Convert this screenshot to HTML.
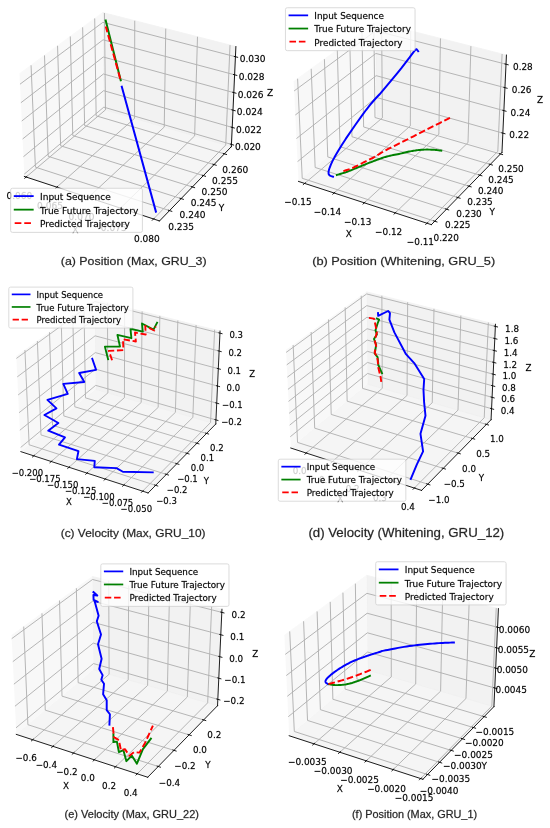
<!DOCTYPE html>
<html><head><meta charset="utf-8"><title>Trajectory predictions</title>
<style>
html,body{margin:0;padding:0;background:#fff;}
body{width:550px;height:828px;position:relative;overflow:hidden;}
#root{position:absolute;left:0;top:0;width:550px;height:828px;overflow:hidden;background:#fff;}
svg.p{position:absolute;overflow:visible;}
svg.p *{stroke-linejoin:round;stroke-linecap:butt;}
svg.p text{stroke:#000;stroke-width:0.35px;stroke-opacity:0.55;transform:translateY(0.8px);}
.caps{position:absolute;left:0;top:0;}
.caps text{font-family:"Liberation Sans","DejaVu Sans",sans-serif;fill:#262626;stroke:#262626;stroke-width:0.35px;stroke-opacity:0.6;}
</style></head><body><div id="root">
<svg class="p" style="left:-87.21px;top:-44.07px" width="416.64" height="314.88" viewBox="0 0 460.8 345.6" preserveAspectRatio="none"> <g> <g> <g> <path d="M123.2 241.97L211.08 168.31L209.85 62.07L117.77 129.27 " style="fill: #f2f2f2; opacity: 0.5; stroke: #f2f2f2; stroke-linejoin: miter"/> </g> </g> <g> <g> <path d="M211.08 168.31L352.09 209.29L357.12 99.4L209.85 62.07 " style="fill: #e6e6e6; opacity: 0.5; stroke: #e6e6e6; stroke-linejoin: miter"/> </g> </g> <g> <g> <path d="M123.2 241.97L272.68 290.79L352.09 209.29L211.08 168.31 " style="fill: #ececec; opacity: 0.5; stroke: #ececec; stroke-linejoin: miter"/> </g> </g> <g> <g> <path d="M125.14 242.6L212.92 168.84L211.77 62.56 " style="fill: none; stroke: #b0b0b0; stroke-width: 1.05"/> <path d="M159.07 253.69L245.04 178.18L245.26 71.05 " style="fill: none; stroke: #b0b0b0; stroke-width: 1.05"/> <path d="M193.85 265.05L277.89 187.73L279.55 79.74 " style="fill: none; stroke: #b0b0b0; stroke-width: 1.05"/> <path d="M229.51 276.69L311.49 197.49L314.66 88.64 " style="fill: none; stroke: #b0b0b0; stroke-width: 1.05"/> <path d="M266.07 288.63L345.88 207.49L350.63 97.76 " style="fill: none; stroke: #b0b0b0; stroke-width: 1.05"/> </g> </g> <g> <g> <path d="M130.58 119.92L135.38 231.75L283.73 279.45 " style="fill: none; stroke: #b0b0b0; stroke-width: 1.05"/> <path d="M145.44 109.08L149.53 219.89L296.55 266.29 " style="fill: none; stroke: #b0b0b0; stroke-width: 1.05"/> <path d="M159.89 98.53L163.31 208.34L309.02 253.5 " style="fill: none; stroke: #b0b0b0; stroke-width: 1.05"/> <path d="M173.96 88.27L176.74 197.09L321.14 241.05 " style="fill: none; stroke: #b0b0b0; stroke-width: 1.05"/> <path d="M187.64 78.28L189.82 186.13L332.94 228.94 " style="fill: none; stroke: #b0b0b0; stroke-width: 1.05"/> <path d="M200.97 68.56L202.56 175.44L344.43 217.16 " style="fill: none; stroke: #b0b0b0; stroke-width: 1.05"/> </g> </g> <g> <g> <path d="M352.2 206.8L211.05 165.89L123.07 239.41 " style="fill: none; stroke: #b0b0b0; stroke-width: 1.05"/> <path d="M353.06 188.13L210.84 147.82L122.15 220.3 " style="fill: none; stroke: #b0b0b0; stroke-width: 1.05"/> <path d="M353.93 169.18L210.63 129.48L121.22 200.88 " style="fill: none; stroke: #b0b0b0; stroke-width: 1.05"/> <path d="M354.81 149.94L210.42 110.87L120.27 181.15 " style="fill: none; stroke: #b0b0b0; stroke-width: 1.05"/> <path d="M355.7 130.4L210.2 91.99L119.3 161.1 " style="fill: none; stroke: #b0b0b0; stroke-width: 1.05"/> <path d="M356.61 110.55L209.98 72.83L118.32 140.73 " style="fill: none; stroke: #b0b0b0; stroke-width: 1.05"/> </g> </g> <g> <g> <path d="M123.2 241.97L272.68 290.79 " style="fill: none; stroke: #000000; stroke-linecap: square"/> </g> <g> <g> <path d="M125.9 241.96L123.61 243.89 " style="fill: none; stroke: #000000; stroke-linecap: square"/> </g> <g> <text style="font-size: 10px; font-family: 'DejaVu Sans', sans-serif; text-anchor: middle" x="117.6" y="265.86">0.060</text> </g> </g> <g> <g> <path d="M159.82 253.03L157.57 255.01 " style="fill: none; stroke: #000000; stroke-linecap: square"/> </g> <g> <text style="font-size: 10px; font-family: 'DejaVu Sans', sans-serif; text-anchor: middle" x="151.57" y="277.18">0.065</text> </g> </g> <g> <g> <path d="M194.59 264.37L192.38 266.4 " style="fill: none; stroke: #000000; stroke-linecap: square"/> </g> <g> <text style="font-size: 10px; font-family: 'DejaVu Sans', sans-serif; text-anchor: middle" x="186.39" y="288.78">0.070</text> </g> </g> <g> <g> <path d="M230.22 276L228.07 278.08 " style="fill: none; stroke: #000000; stroke-linecap: square"/> </g> <g> <text style="font-size: 10px; font-family: 'DejaVu Sans', sans-serif; text-anchor: middle" x="222.09" y="300.68">0.075</text> </g> </g> <g> <g> <path d="M266.77 287.92L264.67 290.05 " style="fill: none; stroke: #000000; stroke-linecap: square"/> </g> <g> <text style="font-size: 10px; font-family: 'DejaVu Sans', sans-serif; text-anchor: middle" x="258.7" y="312.87">0.080</text> </g> </g> <g> <text style="font-size: 10px; font-family: 'DejaVu Sans', sans-serif; text-anchor: middle" x="179.68" y="303.77">X</text> </g> </g> <g> <g> <path d="M352.09 209.29L272.68 290.79 " style="fill: none; stroke: #000000; stroke-linecap: square"/> </g> <g> <g> <path d="M282.48 279.04L286.24 280.25 " style="fill: none; stroke: #000000; stroke-linecap: square"/> </g> <g> <text style="font-size: 10px; font-family: 'DejaVu Sans', sans-serif; text-anchor: middle" x="296.54" y="300.38">0.235</text> </g> </g> <g> <g> <path d="M295.31 265.9L299.03 267.07 " style="fill: none; stroke: #000000; stroke-linecap: square"/> </g> <g> <text style="font-size: 10px; font-family: 'DejaVu Sans', sans-serif; text-anchor: middle" x="309.19" y="287.03">0.240</text> </g> </g> <g> <g> <path d="M307.79 253.12L311.47 254.26 " style="fill: none; stroke: #000000; stroke-linecap: square"/> </g> <g> <text style="font-size: 10px; font-family: 'DejaVu Sans', sans-serif; text-anchor: middle" x="321.48" y="274.05">0.245</text> </g> </g> <g> <g> <path d="M319.93 240.68L323.57 241.79 " style="fill: none; stroke: #000000; stroke-linecap: square"/> </g> <g> <text style="font-size: 10px; font-family: 'DejaVu Sans', sans-serif; text-anchor: middle" x="333.45" y="261.42">0.250</text> </g> </g> <g> <g> <path d="M331.74 228.58L335.35 229.66 " style="fill: none; stroke: #000000; stroke-linecap: square"/> </g> <g> <text style="font-size: 10px; font-family: 'DejaVu Sans', sans-serif; text-anchor: middle" x="345.09" y="249.14">0.255</text> </g> </g> <g> <g> <path d="M343.24 216.81L346.81 217.86 " style="fill: none; stroke: #000000; stroke-linecap: square"/> </g> <g> <text style="font-size: 10px; font-family: 'DejaVu Sans', sans-serif; text-anchor: middle" x="356.42" y="237.17">0.260</text> </g> </g> <g> <text style="font-size: 10px; font-family: 'DejaVu Sans', sans-serif; text-anchor: middle" x="341.13" y="278.99">Y</text> </g> </g> <g> <g> <path d="M352.09 209.29L357.12 99.4 " style="fill: none; stroke: #000000; stroke-linecap: square"/> </g> <g> <g> <path d="M351.02 206.45L354.58 207.48 " style="fill: none; stroke: #000000; stroke-linecap: square"/> </g> <g> <text style="font-size: 10px; font-family: 'DejaVu Sans', sans-serif; text-anchor: middle" x="370.47" y="211.8">0.020</text> </g> </g> <g> <g> <path d="M351.87 187.79L355.45 188.81 " style="fill: none; stroke: #000000; stroke-linecap: square"/> </g> <g> <text style="font-size: 10px; font-family: 'DejaVu Sans', sans-serif; text-anchor: middle" x="371.46" y="193.17">0.022</text> </g> </g> <g> <g> <path d="M352.72 168.85L356.34 169.85 " style="fill: none; stroke: #000000; stroke-linecap: square"/> </g> <g> <text style="font-size: 10px; font-family: 'DejaVu Sans', sans-serif; text-anchor: middle" x="372.47" y="174.26">0.024</text> </g> </g> <g> <g> <path d="M353.6 149.61L357.24 150.6 " style="fill: none; stroke: #000000; stroke-linecap: square"/> </g> <g> <text style="font-size: 10px; font-family: 'DejaVu Sans', sans-serif; text-anchor: middle" x="373.49" y="155.05">0.026</text> </g> </g> <g> <g> <path d="M354.48 130.08L358.15 131.05 " style="fill: none; stroke: #000000; stroke-linecap: square"/> </g> <g> <text style="font-size: 10px; font-family: 'DejaVu Sans', sans-serif; text-anchor: middle" x="374.53" y="135.55">0.028</text> </g> </g> <g> <g> <path d="M355.38 110.24L359.08 111.19 " style="fill: none; stroke: #000000; stroke-linecap: square"/> </g> <g> <text style="font-size: 10px; font-family: 'DejaVu Sans', sans-serif; text-anchor: middle" x="375.58" y="115.75">0.030</text> </g> </g> <g> <text style="font-size: 10px; font-family: 'DejaVu Sans', sans-serif; text-anchor: middle" x="394.93" y="152.9">Z</text> </g> </g> <g/> <g> <path d="M268.66 280.61L230.94 143.52 " style="fill: none; stroke: #0000ff; stroke-width: 2.2; stroke-linecap: square"/> </g> <g> <path d="M229.73 136.39L213.14 70.76 " style="fill: none; stroke: #008000; stroke-width: 2.2; stroke-linecap: square"/> </g> <g> <path d="M229.17 134.63L213.25 77.34 " style="fill: none; stroke-dasharray: 7.4,3.2; stroke-dashoffset: 0; stroke: #ff0000; stroke-width: 2.2"/> </g> <g> <g> <path d="M109.96 303.36L251.75 303.36 Q 253.75 303.36 253.75 301.36L253.75 256.93 Q 253.75 254.93 251.75 254.93L109.96 254.93 Q 107.96 254.93 107.96 256.93L107.96 301.36 Q 107.96 303.36 109.96 303.36z " style="fill: #ffffff; opacity: 0.8; stroke: #cccccc; stroke-linejoin: miter"/> </g> <g> <path d="M112.46 263.53L122.46 263.53L132.46 263.53 " style="fill: none; stroke: #0000ff; stroke-width: 2; stroke-linecap: square"/> </g> <g> <text style="font-size: 10px; font-family: 'DejaVu Sans', sans-serif; text-anchor: start" x="140.46" y="267.03">Input Sequence</text> </g> <g> <path d="M112.46 278.4L122.46 278.4L132.46 278.4 " style="fill: none; stroke: #008000; stroke-width: 2; stroke-linecap: square"/> </g> <g> <text style="font-size: 10px; font-family: 'DejaVu Sans', sans-serif; text-anchor: start" x="140.46" y="281.9">True Future Trajectory</text> </g> <g> <path d="M112.46 293.28L122.46 293.28L132.46 293.28 " style="fill: none; stroke-dasharray: 7.4,3.2; stroke-dashoffset: 0; stroke: #ff0000; stroke-width: 2"/> </g> <g> <text style="font-size: 10px; font-family: 'DejaVu Sans', sans-serif; text-anchor: start" x="140.46" y="296.78">Predicted Trajectory</text> </g> </g> </g> </svg><svg class="p" style="left:188.64px;top:-33.44px" width="409.60" height="306.24" viewBox="0 0 460.8 345.6" preserveAspectRatio="none"> <g> <g> <g> <path d="M123.2 241.97L211.08 168.31L209.85 62.07L117.77 129.27 " style="fill: #f2f2f2; opacity: 0.5; stroke: #f2f2f2; stroke-linejoin: miter"/> </g> </g> <g> <g> <path d="M211.08 168.31L352.09 209.29L357.12 99.4L209.85 62.07 " style="fill: #e6e6e6; opacity: 0.5; stroke: #e6e6e6; stroke-linejoin: miter"/> </g> </g> <g> <g> <path d="M123.2 241.97L272.68 290.79L352.09 209.29L211.08 168.31 " style="fill: #ececec; opacity: 0.5; stroke: #ececec; stroke-linejoin: miter"/> </g> </g> <g> <g> <path d="M130.1 244.22L217.61 170.21L216.67 63.8 " style="fill: none; stroke: #b0b0b0; stroke-width: 1.05"/> <path d="M163.27 255.06L249 179.33L249.4 72.1 " style="fill: none; stroke: #b0b0b0; stroke-width: 1.05"/> <path d="M197.24 266.15L281.08 188.65L282.89 80.59 " style="fill: none; stroke: #b0b0b0; stroke-width: 1.05"/> <path d="M232.05 277.52L313.88 198.19L317.16 89.27 " style="fill: none; stroke: #b0b0b0; stroke-width: 1.05"/> <path d="M267.72 289.17L347.43 207.94L352.25 98.17 " style="fill: none; stroke: #b0b0b0; stroke-width: 1.05"/> </g> </g> <g> <g> <path d="M122.17 126.06L127.38 238.46L276.47 286.9 " style="fill: none; stroke: #b0b0b0; stroke-width: 1.05"/> <path d="M137.47 114.89L141.94 226.25L289.68 273.34 " style="fill: none; stroke: #b0b0b0; stroke-width: 1.05"/> <path d="M152.35 104.04L156.12 214.37L302.51 260.17 " style="fill: none; stroke: #b0b0b0; stroke-width: 1.05"/> <path d="M166.82 93.48L169.92 202.8L314.99 247.37 " style="fill: none; stroke: #b0b0b0; stroke-width: 1.05"/> <path d="M180.89 83.21L183.36 191.54L327.12 234.92 " style="fill: none; stroke: #b0b0b0; stroke-width: 1.05"/> <path d="M194.58 73.22L196.46 180.56L338.93 222.8 " style="fill: none; stroke: #b0b0b0; stroke-width: 1.05"/> <path d="M207.91 63.49L209.22 169.87L350.42 211.01 " style="fill: none; stroke: #b0b0b0; stroke-width: 1.05"/> </g> </g> <g> <g> <path d="M353.09 187.5L210.83 147.2L122.12 219.64 " style="fill: none; stroke: #b0b0b0; stroke-width: 1.05"/> <path d="M354.25 162.1L210.55 122.63L120.87 193.62 " style="fill: none; stroke: #b0b0b0; stroke-width: 1.05"/> <path d="M355.44 136.19L210.26 97.58L119.59 167.04 " style="fill: none; stroke: #b0b0b0; stroke-width: 1.05"/> <path d="M356.65 109.72L209.97 72.03L118.28 139.88 " style="fill: none; stroke: #b0b0b0; stroke-width: 1.05"/> </g> </g> <g> <g> <path d="M123.2 241.97L272.68 290.79 " style="fill: none; stroke: #000000; stroke-linecap: square"/> </g> <g> <g> <path d="M130.86 243.58L128.57 245.51 " style="fill: none; stroke: #000000; stroke-linecap: square"/> </g> <g> <text style="font-size: 10px; font-family: 'DejaVu Sans', sans-serif; text-anchor: middle" x="122.56" y="267.52">−0.15</text> </g> </g> <g> <g> <path d="M164.01 254.4L161.77 256.38 " style="fill: none; stroke: #000000; stroke-linecap: square"/> </g> <g> <text style="font-size: 10px; font-family: 'DejaVu Sans', sans-serif; text-anchor: middle" x="155.77" y="278.58">−0.14</text> </g> </g> <g> <g> <path d="M197.97 265.48L195.77 267.51 " style="fill: none; stroke: #000000; stroke-linecap: square"/> </g> <g> <text style="font-size: 10px; font-family: 'DejaVu Sans', sans-serif; text-anchor: middle" x="189.78" y="289.91">−0.13</text> </g> </g> <g> <g> <path d="M232.76 276.83L230.62 278.91 " style="fill: none; stroke: #000000; stroke-linecap: square"/> </g> <g> <text style="font-size: 10px; font-family: 'DejaVu Sans', sans-serif; text-anchor: middle" x="224.63" y="301.52">−0.12</text> </g> </g> <g> <g> <path d="M268.42 288.46L266.33 290.59 " style="fill: none; stroke: #000000; stroke-linecap: square"/> </g> <g> <text style="font-size: 10px; font-family: 'DejaVu Sans', sans-serif; text-anchor: middle" x="260.35" y="313.42">−0.11</text> </g> </g> <g> <text style="font-size: 10px; font-family: 'DejaVu Sans', sans-serif; text-anchor: middle" x="179.68" y="303.77">X</text> </g> </g> <g> <g> <path d="M352.09 209.29L272.68 290.79 " style="fill: none; stroke: #000000; stroke-linecap: square"/> </g> <g> <g> <path d="M275.22 286.49L278.99 287.71 " style="fill: none; stroke: #000000; stroke-linecap: square"/> </g> <g> <text style="font-size: 10px; font-family: 'DejaVu Sans', sans-serif; text-anchor: middle" x="289.38" y="307.94">0.220</text> </g> </g> <g> <g> <path d="M288.44 272.95L292.17 274.14 " style="fill: none; stroke: #000000; stroke-linecap: square"/> </g> <g> <text style="font-size: 10px; font-family: 'DejaVu Sans', sans-serif; text-anchor: middle" x="302.41" y="294.19">0.225</text> </g> </g> <g> <g> <path d="M301.28 259.79L304.98 260.95 " style="fill: none; stroke: #000000; stroke-linecap: square"/> </g> <g> <text style="font-size: 10px; font-family: 'DejaVu Sans', sans-serif; text-anchor: middle" x="315.07" y="280.83">0.230</text> </g> </g> <g> <g> <path d="M313.77 247L317.43 248.12 " style="fill: none; stroke: #000000; stroke-linecap: square"/> </g> <g> <text style="font-size: 10px; font-family: 'DejaVu Sans', sans-serif; text-anchor: middle" x="327.37" y="267.83">0.235</text> </g> </g> <g> <g> <path d="M325.91 234.55L329.54 235.65 " style="fill: none; stroke: #000000; stroke-linecap: square"/> </g> <g> <text style="font-size: 10px; font-family: 'DejaVu Sans', sans-serif; text-anchor: middle" x="339.35" y="255.2">0.240</text> </g> </g> <g> <g> <path d="M337.73 222.45L341.32 223.51 " style="fill: none; stroke: #000000; stroke-linecap: square"/> </g> <g> <text style="font-size: 10px; font-family: 'DejaVu Sans', sans-serif; text-anchor: middle" x="350.99" y="242.9">0.245</text> </g> </g> <g> <g> <path d="M349.23 210.67L352.79 211.7 " style="fill: none; stroke: #000000; stroke-linecap: square"/> </g> <g> <text style="font-size: 10px; font-family: 'DejaVu Sans', sans-serif; text-anchor: middle" x="362.33" y="230.94">0.250</text> </g> </g> <g> <text style="font-size: 10px; font-family: 'DejaVu Sans', sans-serif; text-anchor: middle" x="341.13" y="278.99">Y</text> </g> </g> <g> <g> <path d="M352.09 209.29L357.12 99.4 " style="fill: none; stroke: #000000; stroke-linecap: square"/> </g> <g> <g> <path d="M351.89 187.16L355.48 188.17 " style="fill: none; stroke: #000000; stroke-linecap: square"/> </g> <g> <text style="font-size: 10px; font-family: 'DejaVu Sans', sans-serif; text-anchor: middle" x="371.5" y="192.53">0.22</text> </g> </g> <g> <g> <path d="M353.04 161.77L356.67 162.77 " style="fill: none; stroke: #000000; stroke-linecap: square"/> </g> <g> <text style="font-size: 10px; font-family: 'DejaVu Sans', sans-serif; text-anchor: middle" x="372.84" y="167.19">0.24</text> </g> </g> <g> <g> <path d="M354.22 135.86L357.88 136.84 " style="fill: none; stroke: #000000; stroke-linecap: square"/> </g> <g> <text style="font-size: 10px; font-family: 'DejaVu Sans', sans-serif; text-anchor: middle" x="374.22" y="141.33">0.26</text> </g> </g> <g> <g> <path d="M355.42 109.41L359.12 110.36 " style="fill: none; stroke: #000000; stroke-linecap: square"/> </g> <g> <text style="font-size: 10px; font-family: 'DejaVu Sans', sans-serif; text-anchor: middle" x="375.62" y="114.92">0.28</text> </g> </g> <g> <text style="font-size: 10px; font-family: 'DejaVu Sans', sans-serif; text-anchor: middle" x="394.93" y="152.9">Z</text> </g> </g> <g/> <g> <path d="M257.81 95.07L257.01 93.97L256.2 93L255.78 92.81L255.38 92.86L255.01 93.08L254.38 93.71L252.56 96.01L248.18 102.07L238.94 114.15L234.41 119.76L214.44 143.65L211.22 147.03L208.65 149.81L203.71 155.65L199.16 161.42L194.12 168.24L186.63 178.84L176.31 194.02L172.26 200.28L167.6 207.93L163.63 214.79L161.24 219.4L159.6 223.05L158.1 226.91L157.4 229.11L157.04 230.94L156.95 232.43L157.15 233.65L157.46 234.35L157.96 234.96L158.69 235.42L160.07 235.94L161.96 236.59L161.96 236.59 " style="fill: none; stroke: #0000ff; stroke-width: 2.2; stroke-linecap: square"/> </g> <g> <path d="M166.35 234.67L167.5 234.32L168.65 233.97L169.8 233.63L170.95 233.29L172.1 232.95L173.25 232.6L174.41 232.24L175.57 231.87L176.75 231.48L177.93 231.06L179.13 230.62L180.34 230.15L181.56 229.67L182.79 229.17L184.02 228.66L185.26 228.14L186.5 227.63L187.73 227.11L188.97 226.6L190.2 226.09L191.4 225.61L192.55 225.13L193.68 224.66L194.81 224.19L195.94 223.72L197.11 223.24L198.33 222.75L199.61 222.24L200.98 221.7L202.46 221.13L204.06 220.51L205.78 219.84L207.59 219.13L209.47 218.4L211.4 217.66L213.35 216.93L215.3 216.22L217.22 215.54L219.1 214.92L220.91 214.36L222.68 213.86L224.46 213.4L226.23 212.99L227.99 212.6L229.73 212.25L231.44 211.91L233.11 211.59L234.73 211.27L236.29 210.95L237.78 210.63L239.2 210.31L240.53 209.99L241.8 209.68L243.02 209.38L244.2 209.09L245.36 208.81L246.51 208.54L247.67 208.28L248.84 208.04L250.05 207.81L251.27 207.6L252.5 207.39L253.73 207.2L254.95 207.01L256.18 206.85L257.4 206.69L258.63 206.55L259.86 206.43L261.08 206.32L262.31 206.23L263.55 206.16L264.81 206.11L266.08 206.08L267.36 206.07L268.63 206.07L269.89 206.08L271.12 206.11L272.31 206.14L273.47 206.18L274.57 206.23L275.62 206.29L276.61 206.37L277.56 206.46L278.48 206.56L279.37 206.68L280.25 206.79L281.13 206.91L282 207.03L282.89 207.14L283.8 207.25 " style="fill: none; stroke: #008000; stroke-width: 2.2; stroke-linecap: square"/> </g> <g> <path d="M173.66 230.38L174.7 230.03L175.72 229.7L176.74 229.38L177.76 229.06L178.78 228.74L179.81 228.4L180.85 228.04L181.91 227.66L183 227.24L184.12 226.77L185.28 226.26L186.46 225.7L187.67 225.1L188.9 224.47L190.14 223.83L191.39 223.17L192.65 222.51L193.9 221.85L195.15 221.2L196.38 220.56L197.61 219.95L198.84 219.34L200.06 218.74L201.29 218.14L202.52 217.53L203.74 216.92L204.97 216.3L206.19 215.67L207.42 215.02L208.65 214.36L209.85 213.68L211.01 212.99L212.15 212.29L213.28 211.59L214.42 210.87L215.59 210.13L216.81 209.38L218.09 208.61L219.45 207.83L220.91 207.02L222.31 206.27L223.56 205.62L224.73 205.03L225.94 204.43L227.26 203.78L228.79 203.03L230.63 202.13L232.87 201.02L235.6 199.66L238.91 197.99L242.89 195.98L247.5 193.64L252.62 191.04L258.14 188.24L263.95 185.28L269.95 182.24L276.03 179.15L282.06 176.08L287.95 173.09L293.58 170.23 " style="fill: none; stroke-dasharray: 7.4,3.2; stroke-dashoffset: 0; stroke: #ff0000; stroke-width: 2.2"/> </g> <g> <g> <path d="M110.52 94.42L252.32 94.42 Q 254.32 94.42 254.32 92.42L254.32 47.98 Q 254.32 45.98 252.32 45.98L110.52 45.98 Q 108.52 45.98 108.52 47.98L108.52 92.42 Q 108.52 94.42 110.52 94.42z " style="fill: #ffffff; opacity: 0.8; stroke: #cccccc; stroke-linejoin: miter"/> </g> <g> <path d="M113.02 54.58L123.02 54.58L133.02 54.58 " style="fill: none; stroke: #0000ff; stroke-width: 2; stroke-linecap: square"/> </g> <g> <text style="font-size: 10px; font-family: 'DejaVu Sans', sans-serif; text-anchor: start" x="141.02" y="58.08">Input Sequence</text> </g> <g> <path d="M113.02 69.46L123.02 69.46L133.02 69.46 " style="fill: none; stroke: #008000; stroke-width: 2; stroke-linecap: square"/> </g> <g> <text style="font-size: 10px; font-family: 'DejaVu Sans', sans-serif; text-anchor: start" x="141.02" y="72.96">True Future Trajectory</text> </g> <g> <path d="M113.02 84.34L123.02 84.34L133.02 84.34 " style="fill: none; stroke-dasharray: 7.4,3.2; stroke-dashoffset: 0; stroke: #ff0000; stroke-width: 2"/> </g> <g> <text style="font-size: 10px; font-family: 'DejaVu Sans', sans-serif; text-anchor: start" x="141.02" y="87.84">Predicted Trajectory</text> </g> </g> </g> </svg><svg class="p" style="left:-84.39px;top:247.48px" width="392.32" height="292.32" viewBox="0 0 460.8 345.6" preserveAspectRatio="none"> <g> <g> <g> <path d="M123.2 241.97L211.08 168.31L209.85 62.07L117.77 129.27 " style="fill: #f2f2f2; opacity: 0.5; stroke: #f2f2f2; stroke-linejoin: miter"/> </g> </g> <g> <g> <path d="M211.08 168.31L352.09 209.29L357.12 99.4L209.85 62.07 " style="fill: #e6e6e6; opacity: 0.5; stroke: #e6e6e6; stroke-linejoin: miter"/> </g> </g> <g> <g> <path d="M123.2 241.97L272.68 290.79L352.09 209.29L211.08 168.31 " style="fill: #ececec; opacity: 0.5; stroke: #ececec; stroke-linejoin: miter"/> </g> </g> <g> <g> <path d="M138.34 246.92L225.42 172.48L224.81 65.86 " style="fill: none; stroke: #b0b0b0; stroke-width: 1.05"/> <path d="M158.86 253.62L244.83 178.12L245.05 71 " style="fill: none; stroke: #b0b0b0; stroke-width: 1.05"/> <path d="M179.69 260.42L264.51 183.84L265.59 76.2 " style="fill: none; stroke: #b0b0b0; stroke-width: 1.05"/> <path d="M200.83 267.32L284.46 189.64L286.42 81.48 " style="fill: none; stroke: #b0b0b0; stroke-width: 1.05"/> <path d="M222.29 274.33L304.69 195.52L307.55 86.84 " style="fill: none; stroke: #b0b0b0; stroke-width: 1.05"/> <path d="M244.07 281.45L325.2 201.48L328.99 92.27 " style="fill: none; stroke: #b0b0b0; stroke-width: 1.05"/> <path d="M266.19 288.67L346 207.52L350.75 97.79 " style="fill: none; stroke: #b0b0b0; stroke-width: 1.05"/> </g> </g> <g> <g> <path d="M127.95 121.84L132.88 233.85L281.46 281.78 " style="fill: none; stroke: #b0b0b0; stroke-width: 1.05"/> <path d="M142.58 111.17L146.81 222.18L294.08 268.82 " style="fill: none; stroke: #b0b0b0; stroke-width: 1.05"/> <path d="M156.81 100.78L160.38 210.81L306.36 256.22 " style="fill: none; stroke: #b0b0b0; stroke-width: 1.05"/> <path d="M170.67 90.67L173.6 199.72L318.31 243.96 " style="fill: none; stroke: #b0b0b0; stroke-width: 1.05"/> <path d="M184.16 80.83L186.49 188.92L329.94 232.02 " style="fill: none; stroke: #b0b0b0; stroke-width: 1.05"/> <path d="M197.3 71.23L199.06 178.38L341.27 220.4 " style="fill: none; stroke: #b0b0b0; stroke-width: 1.05"/> </g> </g> <g> <g> <path d="M352.31 204.43L211.02 163.59L122.96 236.98 " style="fill: none; stroke: #b0b0b0; stroke-width: 1.05"/> <path d="M353.22 184.57L210.8 144.37L121.98 216.65 " style="fill: none; stroke: #b0b0b0; stroke-width: 1.05"/> <path d="M354.15 164.39L210.58 124.85L120.98 195.97 " style="fill: none; stroke: #b0b0b0; stroke-width: 1.05"/> <path d="M355.09 143.89L210.35 105.02L119.97 174.94 " style="fill: none; stroke: #b0b0b0; stroke-width: 1.05"/> <path d="M356.04 123.04L210.12 84.88L118.94 153.54 " style="fill: none; stroke: #b0b0b0; stroke-width: 1.05"/> <path d="M357.01 101.84L209.88 64.43L117.89 131.78 " style="fill: none; stroke: #b0b0b0; stroke-width: 1.05"/> </g> </g> <g> <g> <path d="M123.2 241.97L272.68 290.79 " style="fill: none; stroke: #000000; stroke-linecap: square"/> </g> <g> <g> <path d="M139.1 246.27L136.82 248.22 " style="fill: none; stroke: #000000; stroke-linecap: square"/> </g> <g> <text style="font-size: 10px; font-family: 'DejaVu Sans', sans-serif; text-anchor: middle" x="130.82" y="270.27">−0.200</text> </g> </g> <g> <g> <path d="M159.61 252.96L157.36 254.94 " style="fill: none; stroke: #000000; stroke-linecap: square"/> </g> <g> <text style="font-size: 10px; font-family: 'DejaVu Sans', sans-serif; text-anchor: middle" x="151.36" y="277.11">−0.175</text> </g> </g> <g> <g> <path d="M180.43 259.75L178.21 261.76 " style="fill: none; stroke: #000000; stroke-linecap: square"/> </g> <g> <text style="font-size: 10px; font-family: 'DejaVu Sans', sans-serif; text-anchor: middle" x="172.21" y="284.06">−0.150</text> </g> </g> <g> <g> <path d="M201.56 266.65L199.37 268.68 " style="fill: none; stroke: #000000; stroke-linecap: square"/> </g> <g> <text style="font-size: 10px; font-family: 'DejaVu Sans', sans-serif; text-anchor: middle" x="193.37" y="291.11">−0.125</text> </g> </g> <g> <g> <path d="M223.01 273.64L220.84 275.71 " style="fill: none; stroke: #000000; stroke-linecap: square"/> </g> <g> <text style="font-size: 10px; font-family: 'DejaVu Sans', sans-serif; text-anchor: middle" x="214.86" y="298.27">−0.100</text> </g> </g> <g> <g> <path d="M244.78 280.75L242.65 282.85 " style="fill: none; stroke: #000000; stroke-linecap: square"/> </g> <g> <text style="font-size: 10px; font-family: 'DejaVu Sans', sans-serif; text-anchor: middle" x="236.67" y="305.53">−0.075</text> </g> </g> <g> <g> <path d="M266.89 287.96L264.79 290.09 " style="fill: none; stroke: #000000; stroke-linecap: square"/> </g> <g> <text style="font-size: 10px; font-family: 'DejaVu Sans', sans-serif; text-anchor: middle" x="258.82" y="312.91">−0.050</text> </g> </g> <g> <text style="font-size: 10px; font-family: 'DejaVu Sans', sans-serif; text-anchor: middle" x="179.68" y="303.77">X</text> </g> </g> <g> <g> <path d="M352.09 209.29L272.68 290.79 " style="fill: none; stroke: #000000; stroke-linecap: square"/> </g> <g> <g> <path d="M280.21 281.37L283.97 282.58 " style="fill: none; stroke: #000000; stroke-linecap: square"/> </g> <g> <text style="font-size: 10px; font-family: 'DejaVu Sans', sans-serif; text-anchor: middle" x="294.3" y="302.75">−0.3</text> </g> </g> <g> <g> <path d="M292.84 268.43L296.57 269.61 " style="fill: none; stroke: #000000; stroke-linecap: square"/> </g> <g> <text style="font-size: 10px; font-family: 'DejaVu Sans', sans-serif; text-anchor: middle" x="306.75" y="289.6">−0.2</text> </g> </g> <g> <g> <path d="M305.13 255.84L308.82 256.99 " style="fill: none; stroke: #000000; stroke-linecap: square"/> </g> <g> <text style="font-size: 10px; font-family: 'DejaVu Sans', sans-serif; text-anchor: middle" x="318.86" y="276.82">−0.1</text> </g> </g> <g> <g> <path d="M317.09 243.59L320.75 244.71 " style="fill: none; stroke: #000000; stroke-linecap: square"/> </g> <g> <text style="font-size: 10px; font-family: 'DejaVu Sans', sans-serif; text-anchor: middle" x="330.65" y="264.38">0.0</text> </g> </g> <g> <g> <path d="M328.74 231.66L332.36 232.75 " style="fill: none; stroke: #000000; stroke-linecap: square"/> </g> <g> <text style="font-size: 10px; font-family: 'DejaVu Sans', sans-serif; text-anchor: middle" x="342.13" y="252.26">0.1</text> </g> </g> <g> <g> <path d="M340.08 220.05L343.66 221.1 " style="fill: none; stroke: #000000; stroke-linecap: square"/> </g> <g> <text style="font-size: 10px; font-family: 'DejaVu Sans', sans-serif; text-anchor: middle" x="353.3" y="240.46">0.2</text> </g> </g> <g> <text style="font-size: 10px; font-family: 'DejaVu Sans', sans-serif; text-anchor: middle" x="341.13" y="278.99">Y</text> </g> </g> <g> <g> <path d="M352.09 209.29L357.12 99.4 " style="fill: none; stroke: #000000; stroke-linecap: square"/> </g> <g> <g> <path d="M351.13 204.08L354.69 205.11 " style="fill: none; stroke: #000000; stroke-linecap: square"/> </g> <g> <text style="font-size: 10px; font-family: 'DejaVu Sans', sans-serif; text-anchor: middle" x="370.6" y="209.43">−0.2</text> </g> </g> <g> <g> <path d="M352.03 184.23L355.62 185.25 " style="fill: none; stroke: #000000; stroke-linecap: square"/> </g> <g> <text style="font-size: 10px; font-family: 'DejaVu Sans', sans-serif; text-anchor: middle" x="371.65" y="189.61">−0.1</text> </g> </g> <g> <g> <path d="M352.94 164.06L356.56 165.06 " style="fill: none; stroke: #000000; stroke-linecap: square"/> </g> <g> <text style="font-size: 10px; font-family: 'DejaVu Sans', sans-serif; text-anchor: middle" x="372.72" y="169.48">0.0</text> </g> </g> <g> <g> <path d="M353.87 143.56L357.52 144.54 " style="fill: none; stroke: #000000; stroke-linecap: square"/> </g> <g> <text style="font-size: 10px; font-family: 'DejaVu Sans', sans-serif; text-anchor: middle" x="373.81" y="149.01">0.1</text> </g> </g> <g> <g> <path d="M354.81 122.72L358.5 123.68 " style="fill: none; stroke: #000000; stroke-linecap: square"/> </g> <g> <text style="font-size: 10px; font-family: 'DejaVu Sans', sans-serif; text-anchor: middle" x="374.92" y="128.21">0.2</text> </g> </g> <g> <g> <path d="M355.77 101.53L359.49 102.47 " style="fill: none; stroke: #000000; stroke-linecap: square"/> </g> <g> <text style="font-size: 10px; font-family: 'DejaVu Sans', sans-serif; text-anchor: middle" x="376.04" y="107.06">0.3</text> </g> </g> <g> <text style="font-size: 10px; font-family: 'DejaVu Sans', sans-serif; text-anchor: middle" x="394.93" y="152.9">Z</text> </g> </g> <g/> <g> <path d="M207.06 132.08L211.52 145.32L191.67 148.98L197.66 159.62L173 161.87L178.28 173.58L154.32 180.67L165.01 190.84L150.8 198.64L167.24 208.1L155.26 217.2L174.99 225.12L167.95 233.75L190.85 241.2L188.97 250.78L210 252.91L209.41 260.35L235.48 261.42L243 265.67L278.12 266.38 " style="fill: none; stroke: #0000ff; stroke-width: 2.2; stroke-linecap: square"/> </g> <g> <path d="M225.62 132.67L221.86 117.77L239.59 117.65L236.54 103.82L252.98 107.84L251.93 96.73L266.37 100.16L265.43 90.46L278.94 97.67L283.17 89.52 " style="fill: none; stroke: #008000; stroke-width: 2.2; stroke-linecap: square"/> </g> <g> <path d="M230.32 133.97L226.56 122.86L243.59 121.91L243.12 109.14L258.27 111.74L257.21 101.1L269.78 103.47L269.31 93.42L279.76 98.74L281.53 94.01 " style="fill: none; stroke-dasharray: 7.4,3.2; stroke-dashoffset: 0; stroke: #ff0000; stroke-width: 2.2"/> </g> <g> <g> <path d="M110.98 95.86L252.78 95.86 Q 254.78 95.86 254.78 93.86L254.78 49.43 Q 254.78 47.43 252.78 47.43L110.98 47.43 Q 108.98 47.43 108.98 49.43L108.98 93.86 Q 108.98 95.86 110.98 95.86z " style="fill: #ffffff; opacity: 0.8; stroke: #cccccc; stroke-linejoin: miter"/> </g> <g> <path d="M113.48 56.03L123.48 56.03L133.48 56.03 " style="fill: none; stroke: #0000ff; stroke-width: 2; stroke-linecap: square"/> </g> <g> <text style="font-size: 10px; font-family: 'DejaVu Sans', sans-serif; text-anchor: start" x="141.48" y="59.53">Input Sequence</text> </g> <g> <path d="M113.48 70.9L123.48 70.9L133.48 70.9 " style="fill: none; stroke: #008000; stroke-width: 2; stroke-linecap: square"/> </g> <g> <text style="font-size: 10px; font-family: 'DejaVu Sans', sans-serif; text-anchor: start" x="141.48" y="74.4">True Future Trajectory</text> </g> <g> <path d="M113.48 85.78L123.48 85.78L133.48 85.78 " style="fill: none; stroke-dasharray: 7.4,3.2; stroke-dashoffset: 0; stroke: #ff0000; stroke-width: 2"/> </g> <g> <text style="font-size: 10px; font-family: 'DejaVu Sans', sans-serif; text-anchor: start" x="141.48" y="89.28">Predicted Trajectory</text> </g> </g> </g> </svg><svg class="p" style="left:182.91px;top:238.31px" width="403.20" height="300.00" viewBox="0 0 460.8 345.6" preserveAspectRatio="none"> <g> <g> <g> <path d="M123.2 241.97L211.08 168.31L209.85 62.07L117.77 129.27 " style="fill: #f2f2f2; opacity: 0.5; stroke: #f2f2f2; stroke-linejoin: miter"/> </g> </g> <g> <g> <path d="M211.08 168.31L352.09 209.29L357.12 99.4L209.85 62.07 " style="fill: #e6e6e6; opacity: 0.5; stroke: #e6e6e6; stroke-linejoin: miter"/> </g> </g> <g> <g> <path d="M123.2 241.97L272.68 290.79L352.09 209.29L211.08 168.31 " style="fill: #ececec; opacity: 0.5; stroke: #ececec; stroke-linejoin: miter"/> </g> </g> <g> <g> <path d="M140.85 247.73L227.79 173.17L227.28 66.49 " style="fill: none; stroke: #b0b0b0; stroke-width: 1.05"/> <path d="M170.74 257.5L256.06 181.38L256.76 73.96 " style="fill: none; stroke: #b0b0b0; stroke-width: 1.05"/> <path d="M201.27 267.47L284.88 189.76L286.86 81.59 " style="fill: none; stroke: #b0b0b0; stroke-width: 1.05"/> <path d="M232.48 277.66L314.29 198.31L317.58 89.38 " style="fill: none; stroke: #b0b0b0; stroke-width: 1.05"/> <path d="M264.38 288.08L344.29 207.03L348.96 97.33 " style="fill: none; stroke: #b0b0b0; stroke-width: 1.05"/> </g> </g> <g> <g> <path d="M125.89 123.35L130.92 235.49L279.69 283.6 " style="fill: none; stroke: #b0b0b0; stroke-width: 1.05"/> <path d="M146.47 108.33L150.51 219.07L297.44 265.38 " style="fill: none; stroke: #b0b0b0; stroke-width: 1.05"/> <path d="M166.27 93.88L169.39 203.25L314.51 247.86 " style="fill: none; stroke: #b0b0b0; stroke-width: 1.05"/> <path d="M185.33 79.97L187.61 187.98L330.95 230.99 " style="fill: none; stroke: #b0b0b0; stroke-width: 1.05"/> <path d="M203.71 66.56L205.19 173.24L346.79 214.73 " style="fill: none; stroke: #b0b0b0; stroke-width: 1.05"/> </g> </g> <g> <g> <path d="M352.67 196.64L210.94 156.06L122.57 229.02 " style="fill: none; stroke: #b0b0b0; stroke-width: 1.05"/> <path d="M353.27 183.53L210.79 143.36L121.93 215.58 " style="fill: none; stroke: #b0b0b0; stroke-width: 1.05"/> <path d="M353.88 170.28L210.64 130.54L121.27 202 " style="fill: none; stroke: #b0b0b0; stroke-width: 1.05"/> <path d="M354.49 156.89L210.49 117.59L120.61 188.27 " style="fill: none; stroke: #b0b0b0; stroke-width: 1.05"/> <path d="M355.11 143.35L210.34 104.5L119.94 174.39 " style="fill: none; stroke: #b0b0b0; stroke-width: 1.05"/> <path d="M355.74 129.66L210.19 91.28L119.27 160.34 " style="fill: none; stroke: #b0b0b0; stroke-width: 1.05"/> <path d="M356.37 115.83L210.04 77.92L118.58 146.14 " style="fill: none; stroke: #b0b0b0; stroke-width: 1.05"/> <path d="M357.01 101.84L209.88 64.43L117.89 131.78 " style="fill: none; stroke: #b0b0b0; stroke-width: 1.05"/> </g> </g> <g> <g> <path d="M123.2 241.97L272.68 290.79 " style="fill: none; stroke: #000000; stroke-linecap: square"/> </g> <g> <g> <path d="M141.61 247.09L139.33 249.04 " style="fill: none; stroke: #000000; stroke-linecap: square"/> </g> <g> <text style="font-size: 10px; font-family: 'DejaVu Sans', sans-serif; text-anchor: middle" x="133.33" y="271.1">0.0</text> </g> </g> <g> <g> <path d="M171.48 256.83L169.24 258.83 " style="fill: none; stroke: #000000; stroke-linecap: square"/> </g> <g> <text style="font-size: 10px; font-family: 'DejaVu Sans', sans-serif; text-anchor: middle" x="163.25" y="281.07">0.1</text> </g> </g> <g> <g> <path d="M202 266.79L199.81 268.83 " style="fill: none; stroke: #000000; stroke-linecap: square"/> </g> <g> <text style="font-size: 10px; font-family: 'DejaVu Sans', sans-serif; text-anchor: middle" x="193.82" y="291.26">0.2</text> </g> </g> <g> <g> <path d="M233.19 276.97L231.04 279.05 " style="fill: none; stroke: #000000; stroke-linecap: square"/> </g> <g> <text style="font-size: 10px; font-family: 'DejaVu Sans', sans-serif; text-anchor: middle" x="225.06" y="301.67">0.3</text> </g> </g> <g> <g> <path d="M265.07 287.37L262.98 289.5 " style="fill: none; stroke: #000000; stroke-linecap: square"/> </g> <g> <text style="font-size: 10px; font-family: 'DejaVu Sans', sans-serif; text-anchor: middle" x="257" y="312.31">0.4</text> </g> </g> <g> <text style="font-size: 10px; font-family: 'DejaVu Sans', sans-serif; text-anchor: middle" x="179.68" y="303.77">X</text> </g> </g> <g> <g> <path d="M352.09 209.29L272.68 290.79 " style="fill: none; stroke: #000000; stroke-linecap: square"/> </g> <g> <g> <path d="M278.43 283.19L282.2 284.41 " style="fill: none; stroke: #000000; stroke-linecap: square"/> </g> <g> <text style="font-size: 10px; font-family: 'DejaVu Sans', sans-serif; text-anchor: middle" x="292.55" y="304.6">−1.0</text> </g> </g> <g> <g> <path d="M296.2 264.99L299.91 266.16 " style="fill: none; stroke: #000000; stroke-linecap: square"/> </g> <g> <text style="font-size: 10px; font-family: 'DejaVu Sans', sans-serif; text-anchor: middle" x="310.06" y="286.11">−0.5</text> </g> </g> <g> <g> <path d="M313.29 247.48L316.96 248.61 " style="fill: none; stroke: #000000; stroke-linecap: square"/> </g> <g> <text style="font-size: 10px; font-family: 'DejaVu Sans', sans-serif; text-anchor: middle" x="326.9" y="268.33">0.0</text> </g> </g> <g> <g> <path d="M329.75 230.63L333.37 231.71 " style="fill: none; stroke: #000000; stroke-linecap: square"/> </g> <g> <text style="font-size: 10px; font-family: 'DejaVu Sans', sans-serif; text-anchor: middle" x="343.12" y="251.21">0.5</text> </g> </g> <g> <g> <path d="M345.61 214.38L349.17 215.43 " style="fill: none; stroke: #000000; stroke-linecap: square"/> </g> <g> <text style="font-size: 10px; font-family: 'DejaVu Sans', sans-serif; text-anchor: middle" x="358.75" y="234.71">1.0</text> </g> </g> <g> <text style="font-size: 10px; font-family: 'DejaVu Sans', sans-serif; text-anchor: middle" x="341.13" y="278.99">Y</text> </g> </g> <g> <g> <path d="M352.09 209.29L357.12 99.4 " style="fill: none; stroke: #000000; stroke-linecap: square"/> </g> <g> <g> <path d="M351.48 196.3L355.05 197.33 " style="fill: none; stroke: #000000; stroke-linecap: square"/> </g> <g> <text style="font-size: 10px; font-family: 'DejaVu Sans', sans-serif; text-anchor: middle" x="371.01" y="201.66">0.4</text> </g> </g> <g> <g> <path d="M352.07 183.2L355.67 184.21 " style="fill: none; stroke: #000000; stroke-linecap: square"/> </g> <g> <text style="font-size: 10px; font-family: 'DejaVu Sans', sans-serif; text-anchor: middle" x="371.71" y="188.58">0.6</text> </g> </g> <g> <g> <path d="M352.67 169.95L356.29 170.95 " style="fill: none; stroke: #000000; stroke-linecap: square"/> </g> <g> <text style="font-size: 10px; font-family: 'DejaVu Sans', sans-serif; text-anchor: middle" x="372.41" y="175.35">0.8</text> </g> </g> <g> <g> <path d="M353.28 156.56L356.91 157.55 " style="fill: none; stroke: #000000; stroke-linecap: square"/> </g> <g> <text style="font-size: 10px; font-family: 'DejaVu Sans', sans-serif; text-anchor: middle" x="373.12" y="161.99">1.0</text> </g> </g> <g> <g> <path d="M353.89 143.02L357.55 144 " style="fill: none; stroke: #000000; stroke-linecap: square"/> </g> <g> <text style="font-size: 10px; font-family: 'DejaVu Sans', sans-serif; text-anchor: middle" x="373.84" y="148.48">1.2</text> </g> </g> <g> <g> <path d="M354.51 129.34L358.19 130.31 " style="fill: none; stroke: #000000; stroke-linecap: square"/> </g> <g> <text style="font-size: 10px; font-family: 'DejaVu Sans', sans-serif; text-anchor: middle" x="374.56" y="134.82">1.4</text> </g> </g> <g> <g> <path d="M355.14 115.51L358.83 116.47 " style="fill: none; stroke: #000000; stroke-linecap: square"/> </g> <g> <text style="font-size: 10px; font-family: 'DejaVu Sans', sans-serif; text-anchor: middle" x="375.3" y="121.01">1.6</text> </g> </g> <g> <g> <path d="M355.77 101.53L359.49 102.47 " style="fill: none; stroke: #000000; stroke-linecap: square"/> </g> <g> <text style="font-size: 10px; font-family: 'DejaVu Sans', sans-serif; text-anchor: middle" x="376.04" y="107.06">1.8</text> </g> </g> <g> <text style="font-size: 10px; font-family: 'DejaVu Sans', sans-serif; text-anchor: middle" x="394.93" y="152.9">Z</text> </g> </g> <g/> <g> <path d="M222.85 86.5L223.08 89.73L234.39 84.08L236.56 86.62L235.88 94.11L241.59 108.74L254.85 133.85L264.79 144.79L275.65 162.42L274.85 174.75L275.53 188.68L277.13 204.7L271.42 225.55L274.39 245.71L267.19 261.03L260.33 277.73 " style="fill: none; stroke: #0000ff; stroke-width: 2.2; stroke-linecap: square"/> </g> <g> <path d="M221.59 92.72L224.11 94.11L222.39 98.48L219.99 106.2L221.59 111.27L218.28 116.34L220.79 123.02L219.08 133.04L222.39 137.31L223.31 146.52L227.42 155.74 " style="fill: none; stroke: #008000; stroke-width: 2.2; stroke-linecap: square"/> </g> <g> <path d="M212.45 92.03L218.28 92.84L219.99 100.44L221.59 108.74L219.08 117.95L220.79 124.63L219.08 131.43L222.39 139.72L223.31 149.86L225.82 159.88L226.62 165.76 " style="fill: none; stroke-dasharray: 7.4,3.2; stroke-dashoffset: 0; stroke: #ff0000; stroke-width: 2.2"/> </g> <g> <g> <path d="M110.91 303.24L252.7 303.24 Q 254.7 303.24 254.7 301.24L254.7 256.81 Q 254.7 254.81 252.7 254.81L110.91 254.81 Q 108.91 254.81 108.91 256.81L108.91 301.24 Q 108.91 303.24 110.91 303.24z " style="fill: #ffffff; opacity: 0.8; stroke: #cccccc; stroke-linejoin: miter"/> </g> <g> <path d="M113.41 263.41L123.41 263.41L133.41 263.41 " style="fill: none; stroke: #0000ff; stroke-width: 2; stroke-linecap: square"/> </g> <g> <text style="font-size: 10px; font-family: 'DejaVu Sans', sans-serif; text-anchor: start" x="141.41" y="266.91">Input Sequence</text> </g> <g> <path d="M113.41 278.29L123.41 278.29L133.41 278.29 " style="fill: none; stroke: #008000; stroke-width: 2; stroke-linecap: square"/> </g> <g> <text style="font-size: 10px; font-family: 'DejaVu Sans', sans-serif; text-anchor: start" x="141.41" y="281.79">True Future Trajectory</text> </g> <g> <path d="M113.41 293.16L123.41 293.16L133.41 293.16 " style="fill: none; stroke-dasharray: 7.4,3.2; stroke-dashoffset: 0; stroke: #ff0000; stroke-width: 2"/> </g> <g> <text style="font-size: 10px; font-family: 'DejaVu Sans', sans-serif; text-anchor: start" x="141.41" y="296.66">Predicted Trajectory</text> </g> </g> </g> </svg><svg class="p" style="left:-91.92px;top:521.84px" width="405.12" height="303.36" viewBox="0 0 460.8 345.6" preserveAspectRatio="none"> <g> <g> <g> <path d="M123.2 241.97L211.08 168.31L209.85 62.07L117.77 129.27 " style="fill: #f2f2f2; opacity: 0.5; stroke: #f2f2f2; stroke-linejoin: miter"/> </g> </g> <g> <g> <path d="M211.08 168.31L352.09 209.29L357.12 99.4L209.85 62.07 " style="fill: #e6e6e6; opacity: 0.5; stroke: #e6e6e6; stroke-linejoin: miter"/> </g> </g> <g> <g> <path d="M123.2 241.97L272.68 290.79L352.09 209.29L211.08 168.31 " style="fill: #ececec; opacity: 0.5; stroke: #ececec; stroke-linejoin: miter"/> </g> </g> <g> <g> <path d="M141.88 248.07L228.77 173.45L228.3 66.75 " style="fill: none; stroke: #b0b0b0; stroke-width: 1.05"/> <path d="M164.86 255.58L250.51 179.77L250.97 72.5 " style="fill: none; stroke: #b0b0b0; stroke-width: 1.05"/> <path d="M188.23 263.21L272.58 186.18L274.01 78.34 " style="fill: none; stroke: #b0b0b0; stroke-width: 1.05"/> <path d="M211.99 270.97L294.99 192.7L297.41 84.27 " style="fill: none; stroke: #b0b0b0; stroke-width: 1.05"/> <path d="M236.15 278.86L317.75 199.31L321.2 90.3 " style="fill: none; stroke: #b0b0b0; stroke-width: 1.05"/> <path d="M260.73 286.89L340.86 206.03L345.37 96.42 " style="fill: none; stroke: #b0b0b0; stroke-width: 1.05"/> </g> </g> <g> <g> <path d="M131.63 119.16L136.38 230.92L284.64 278.52 " style="fill: none; stroke: #b0b0b0; stroke-width: 1.05"/> <path d="M152.37 104.02L156.14 214.36L302.53 260.16 " style="fill: none; stroke: #b0b0b0; stroke-width: 1.05"/> <path d="M172.33 89.46L175.18 198.39L319.74 242.49 " style="fill: none; stroke: #b0b0b0; stroke-width: 1.05"/> <path d="M191.53 75.44L193.54 183.01L336.3 225.5 " style="fill: none; stroke: #b0b0b0; stroke-width: 1.05"/> </g> </g> <g> <g> <path d="M352.42 202.02L211 161.26L122.84 234.52 " style="fill: none; stroke: #b0b0b0; stroke-width: 1.05"/> <path d="M353.52 177.98L210.73 137.99L121.65 209.89 " style="fill: none; stroke: #b0b0b0; stroke-width: 1.05"/> <path d="M354.65 153.46L210.45 114.28L120.44 184.76 " style="fill: none; stroke: #b0b0b0; stroke-width: 1.05"/> <path d="M355.79 128.46L210.18 90.12L119.21 159.11 " style="fill: none; stroke: #b0b0b0; stroke-width: 1.05"/> <path d="M356.96 102.96L209.89 65.5L117.95 132.92 " style="fill: none; stroke: #b0b0b0; stroke-width: 1.05"/> </g> </g> <g> <g> <path d="M123.2 241.97L272.68 290.79 " style="fill: none; stroke: #000000; stroke-linecap: square"/> </g> <g> <g> <path d="M142.64 247.42L140.37 249.37 " style="fill: none; stroke: #000000; stroke-linecap: square"/> </g> <g> <text style="font-size: 10px; font-family: 'DejaVu Sans', sans-serif; text-anchor: middle" x="134.36" y="271.45">−0.6</text> </g> </g> <g> <g> <path d="M165.61 254.92L163.37 256.9 " style="fill: none; stroke: #000000; stroke-linecap: square"/> </g> <g> <text style="font-size: 10px; font-family: 'DejaVu Sans', sans-serif; text-anchor: middle" x="157.37" y="279.11">−0.4</text> </g> </g> <g> <g> <path d="M188.97 262.54L186.76 264.56 " style="fill: none; stroke: #000000; stroke-linecap: square"/> </g> <g> <text style="font-size: 10px; font-family: 'DejaVu Sans', sans-serif; text-anchor: middle" x="180.76" y="286.91">−0.2</text> </g> </g> <g> <g> <path d="M212.71 270.29L210.54 272.34 " style="fill: none; stroke: #000000; stroke-linecap: square"/> </g> <g> <text style="font-size: 10px; font-family: 'DejaVu Sans', sans-serif; text-anchor: middle" x="204.55" y="294.83">0.0</text> </g> </g> <g> <g> <path d="M236.86 278.17L234.72 280.25 " style="fill: none; stroke: #000000; stroke-linecap: square"/> </g> <g> <text style="font-size: 10px; font-family: 'DejaVu Sans', sans-serif; text-anchor: middle" x="228.74" y="302.89">0.2</text> </g> </g> <g> <g> <path d="M261.43 286.18L259.32 288.3 " style="fill: none; stroke: #000000; stroke-linecap: square"/> </g> <g> <text style="font-size: 10px; font-family: 'DejaVu Sans', sans-serif; text-anchor: middle" x="253.35" y="311.09">0.4</text> </g> </g> <g> <text style="font-size: 10px; font-family: 'DejaVu Sans', sans-serif; text-anchor: middle" x="179.68" y="303.77">X</text> </g> </g> <g> <g> <path d="M352.09 209.29L272.68 290.79 " style="fill: none; stroke: #000000; stroke-linecap: square"/> </g> <g> <g> <path d="M283.39 278.12L287.14 279.32 " style="fill: none; stroke: #000000; stroke-linecap: square"/> </g> <g> <text style="font-size: 10px; font-family: 'DejaVu Sans', sans-serif; text-anchor: middle" x="297.43" y="299.44">−0.4</text> </g> </g> <g> <g> <path d="M301.3 259.77L305 260.93 " style="fill: none; stroke: #000000; stroke-linecap: square"/> </g> <g> <text style="font-size: 10px; font-family: 'DejaVu Sans', sans-serif; text-anchor: middle" x="315.08" y="280.81">−0.2</text> </g> </g> <g> <g> <path d="M318.52 242.12L322.17 243.24 " style="fill: none; stroke: #000000; stroke-linecap: square"/> </g> <g> <text style="font-size: 10px; font-family: 'DejaVu Sans', sans-serif; text-anchor: middle" x="332.06" y="262.89">0.0</text> </g> </g> <g> <g> <path d="M335.1 225.14L338.7 226.22 " style="fill: none; stroke: #000000; stroke-linecap: square"/> </g> <g> <text style="font-size: 10px; font-family: 'DejaVu Sans', sans-serif; text-anchor: middle" x="348.4" y="245.64">0.2</text> </g> </g> <g> <text style="font-size: 10px; font-family: 'DejaVu Sans', sans-serif; text-anchor: middle" x="341.13" y="278.99">Y</text> </g> </g> <g> <g> <path d="M352.09 209.29L357.12 99.4 " style="fill: none; stroke: #000000; stroke-linecap: square"/> </g> <g> <g> <path d="M351.24 201.68L354.8 202.7 " style="fill: none; stroke: #000000; stroke-linecap: square"/> </g> <g> <text style="font-size: 10px; font-family: 'DejaVu Sans', sans-serif; text-anchor: middle" x="370.73" y="207.02">−0.2</text> </g> </g> <g> <g> <path d="M352.33 177.64L355.93 178.65 " style="fill: none; stroke: #000000; stroke-linecap: square"/> </g> <g> <text style="font-size: 10px; font-family: 'DejaVu Sans', sans-serif; text-anchor: middle" x="372" y="183.03">−0.1</text> </g> </g> <g> <g> <path d="M353.44 153.14L357.07 154.12 " style="fill: none; stroke: #000000; stroke-linecap: square"/> </g> <g> <text style="font-size: 10px; font-family: 'DejaVu Sans', sans-serif; text-anchor: middle" x="373.3" y="158.57">0.0</text> </g> </g> <g> <g> <path d="M354.57 128.14L358.24 129.11 " style="fill: none; stroke: #000000; stroke-linecap: square"/> </g> <g> <text style="font-size: 10px; font-family: 'DejaVu Sans', sans-serif; text-anchor: middle" x="374.63" y="133.62">0.1</text> </g> </g> <g> <g> <path d="M355.72 102.64L359.44 103.59 " style="fill: none; stroke: #000000; stroke-linecap: square"/> </g> <g> <text style="font-size: 10px; font-family: 'DejaVu Sans', sans-serif; text-anchor: middle" x="375.98" y="108.17">0.2</text> </g> </g> <g> <text style="font-size: 10px; font-family: 'DejaVu Sans', sans-serif; text-anchor: middle" x="394.93" y="152.9">Z</text> </g> </g> <g/> <g> <path d="M210.9 79.81L215.33 83.8L210.9 83.12L211.13 88.81L215.9 91.09L212.15 89.72L213.4 94.17L216.81 106.81L214.77 113.08L219.54 128.12L216.13 139.17L220.23 155.69L217.5 167.42L221.36 174.48L219.88 179.61L222.96 184.28L221.93 196.24L226.03 202.96L226.03 214.36L229.67 219.03L229.1 230.88 " style="fill: none; stroke: #0000ff; stroke-width: 2.2; stroke-linecap: square"/> </g> <g> <path d="M233.65 241.7L233.65 250.81L237.63 250.24L239.9 262.21L245.02 259.93L248.43 272.46L254.69 266.19L260.38 275.31L267.2 258.79L276.3 246.83 " style="fill: none; stroke: #008000; stroke-width: 2.2; stroke-linecap: square"/> </g> <g> <path d="M233.08 233.72L234.22 245.12L239.9 248.53L242.18 259.93L246.73 258.79L251.85 266.19L256.96 262.21L263.22 262.77L269.48 251.95L278.58 232.02 " style="fill: none; stroke-dasharray: 7.4,3.2; stroke-dashoffset: 0; stroke: #ff0000; stroke-width: 2.2"/> </g> <g> <g> <path d="M221.32 96.12L363.11 96.12 Q 365.11 96.12 365.11 94.12L365.11 49.69 Q 365.11 47.69 363.11 47.69L221.32 47.69 Q 219.32 47.69 219.32 49.69L219.32 94.12 Q 219.32 96.12 221.32 96.12z " style="fill: #ffffff; opacity: 0.8; stroke: #cccccc; stroke-linejoin: miter"/> </g> <g> <path d="M223.82 56.28L233.82 56.28L243.82 56.28 " style="fill: none; stroke: #0000ff; stroke-width: 2; stroke-linecap: square"/> </g> <g> <text style="font-size: 10px; font-family: 'DejaVu Sans', sans-serif; text-anchor: start" x="251.82" y="59.78">Input Sequence</text> </g> <g> <path d="M223.82 71.16L233.82 71.16L243.82 71.16 " style="fill: none; stroke: #008000; stroke-width: 2; stroke-linecap: square"/> </g> <g> <text style="font-size: 10px; font-family: 'DejaVu Sans', sans-serif; text-anchor: start" x="251.82" y="74.66">True Future Trajectory</text> </g> <g> <path d="M223.82 86.04L233.82 86.04L243.82 86.04 " style="fill: none; stroke-dasharray: 7.4,3.2; stroke-dashoffset: 0; stroke: #ff0000; stroke-width: 2"/> </g> <g> <text style="font-size: 10px; font-family: 'DejaVu Sans', sans-serif; text-anchor: start" x="251.82" y="89.54">Predicted Trajectory</text> </g> </g> </g> </svg><svg class="p" style="left:178.70px;top:519.76px" width="412.16" height="308.16" viewBox="0 0 460.8 345.6" preserveAspectRatio="none"> <g> <g> <g> <path d="M123.2 241.97L211.08 168.31L209.85 62.07L117.77 129.27 " style="fill: #f2f2f2; opacity: 0.5; stroke: #f2f2f2; stroke-linejoin: miter"/> </g> </g> <g> <g> <path d="M211.08 168.31L352.09 209.29L357.12 99.4L209.85 62.07 " style="fill: #e6e6e6; opacity: 0.5; stroke: #e6e6e6; stroke-linejoin: miter"/> </g> </g> <g> <g> <path d="M123.2 241.97L272.68 290.79L352.09 209.29L211.08 168.31 " style="fill: #ececec; opacity: 0.5; stroke: #ececec; stroke-linejoin: miter"/> </g> </g> <g> <g> <path d="M150.94 251.03L237.34 175.94L237.23 69.01 " style="fill: none; stroke: #b0b0b0; stroke-width: 1.05"/> <path d="M179.82 260.46L264.64 183.88L265.72 76.23 " style="fill: none; stroke: #b0b0b0; stroke-width: 1.05"/> <path d="M209.32 270.1L292.47 191.96L294.78 83.6 " style="fill: none; stroke: #b0b0b0; stroke-width: 1.05"/> <path d="M239.43 279.93L320.83 200.21L324.43 91.11 " style="fill: none; stroke: #b0b0b0; stroke-width: 1.05"/> <path d="M270.19 289.98L349.75 208.62L354.68 98.78 " style="fill: none; stroke: #b0b0b0; stroke-width: 1.05"/> </g> </g> <g> <g> <path d="M123.79 124.88L128.92 237.17L277.87 285.46 " style="fill: none; stroke: #b0b0b0; stroke-width: 1.05"/> <path d="M139.31 113.55L143.7 224.79L291.26 271.72 " style="fill: none; stroke: #b0b0b0; stroke-width: 1.05"/> <path d="M154.39 102.55L158.07 212.74L304.27 258.37 " style="fill: none; stroke: #b0b0b0; stroke-width: 1.05"/> <path d="M169.05 91.85L172.05 201.02L316.91 245.39 " style="fill: none; stroke: #b0b0b0; stroke-width: 1.05"/> <path d="M183.3 81.45L185.67 189.61L329.2 232.78 " style="fill: none; stroke: #b0b0b0; stroke-width: 1.05"/> <path d="M197.16 71.33L198.93 178.49L341.15 220.52 " style="fill: none; stroke: #b0b0b0; stroke-width: 1.05"/> </g> </g> <g> <g> <path d="M353.05 188.43L210.84 148.1L122.17 220.6 " style="fill: none; stroke: #b0b0b0; stroke-width: 1.05"/> <path d="M354.07 166.13L210.6 126.52L121.07 197.75 " style="fill: none; stroke: #b0b0b0; stroke-width: 1.05"/> <path d="M355.11 143.42L210.34 104.57L119.95 174.46 " style="fill: none; stroke: #b0b0b0; stroke-width: 1.05"/> <path d="M356.17 120.3L210.09 82.24L118.8 150.73 " style="fill: none; stroke: #b0b0b0; stroke-width: 1.05"/> </g> </g> <g> <g> <path d="M123.2 241.97L272.68 290.79 " style="fill: none; stroke: #000000; stroke-linecap: square"/> </g> <g> <g> <path d="M151.69 250.37L149.43 252.34 " style="fill: none; stroke: #000000; stroke-linecap: square"/> </g> <g> <text style="font-size: 10px; font-family: 'DejaVu Sans', sans-serif; text-anchor: middle" x="143.43" y="274.47">−0.0035</text> </g> </g> <g> <g> <path d="M180.56 259.8L178.34 261.8 " style="fill: none; stroke: #000000; stroke-linecap: square"/> </g> <g> <text style="font-size: 10px; font-family: 'DejaVu Sans', sans-serif; text-anchor: middle" x="172.34" y="284.1">−0.0030</text> </g> </g> <g> <g> <path d="M210.04 269.41L207.86 271.46 " style="fill: none; stroke: #000000; stroke-linecap: square"/> </g> <g> <text style="font-size: 10px; font-family: 'DejaVu Sans', sans-serif; text-anchor: middle" x="201.87" y="293.94">−0.0025</text> </g> </g> <g> <g> <path d="M240.14 279.23L238.01 281.33 " style="fill: none; stroke: #000000; stroke-linecap: square"/> </g> <g> <text style="font-size: 10px; font-family: 'DejaVu Sans', sans-serif; text-anchor: middle" x="232.02" y="303.99">−0.0020</text> </g> </g> <g> <g> <path d="M270.89 289.27L268.8 291.4 " style="fill: none; stroke: #000000; stroke-linecap: square"/> </g> <g> <text style="font-size: 10px; font-family: 'DejaVu Sans', sans-serif; text-anchor: middle" x="262.82" y="314.25">−0.0015</text> </g> </g> <g> <text style="font-size: 10px; font-family: 'DejaVu Sans', sans-serif; text-anchor: middle" x="179.68" y="303.77">X</text> </g> </g> <g> <g> <path d="M352.09 209.29L272.68 290.79 " style="fill: none; stroke: #000000; stroke-linecap: square"/> </g> <g> <g> <path d="M276.62 285.05L280.39 286.28 " style="fill: none; stroke: #000000; stroke-linecap: square"/> </g> <g> <text style="font-size: 10px; font-family: 'DejaVu Sans', sans-serif; text-anchor: middle" x="290.76" y="306.49">−0.0040</text> </g> </g> <g> <g> <path d="M290.02 271.32L293.75 272.51 " style="fill: none; stroke: #000000; stroke-linecap: square"/> </g> <g> <text style="font-size: 10px; font-family: 'DejaVu Sans', sans-serif; text-anchor: middle" x="303.97" y="292.54">−0.0035</text> </g> </g> <g> <g> <path d="M303.04 257.98L306.74 259.14 " style="fill: none; stroke: #000000; stroke-linecap: square"/> </g> <g> <text style="font-size: 10px; font-family: 'DejaVu Sans', sans-serif; text-anchor: middle" x="316.8" y="278.99">−0.0030</text> </g> </g> <g> <g> <path d="M315.7 245.02L319.35 246.14 " style="fill: none; stroke: #000000; stroke-linecap: square"/> </g> <g> <text style="font-size: 10px; font-family: 'DejaVu Sans', sans-serif; text-anchor: middle" x="329.27" y="265.83">−0.0025</text> </g> </g> <g> <g> <path d="M328 232.42L331.62 233.51 " style="fill: none; stroke: #000000; stroke-linecap: square"/> </g> <g> <text style="font-size: 10px; font-family: 'DejaVu Sans', sans-serif; text-anchor: middle" x="341.4" y="253.03">−0.0020</text> </g> </g> <g> <g> <path d="M339.96 220.17L343.54 221.23 " style="fill: none; stroke: #000000; stroke-linecap: square"/> </g> <g> <text style="font-size: 10px; font-family: 'DejaVu Sans', sans-serif; text-anchor: middle" x="353.19" y="240.59">−0.0015</text> </g> </g> <g> <text style="font-size: 10px; font-family: 'DejaVu Sans', sans-serif; text-anchor: middle" x="341.13" y="278.99">Y</text> </g> </g> <g> <g> <path d="M352.09 209.29L357.12 99.4 " style="fill: none; stroke: #000000; stroke-linecap: square"/> </g> <g> <g> <path d="M351.85 188.09L355.44 189.11 " style="fill: none; stroke: #000000; stroke-linecap: square"/> </g> <g> <text style="font-size: 10px; font-family: 'DejaVu Sans', sans-serif; text-anchor: middle" x="371.45" y="193.46">0.0045</text> </g> </g> <g> <g> <path d="M352.86 165.8L356.48 166.79 " style="fill: none; stroke: #000000; stroke-linecap: square"/> </g> <g> <text style="font-size: 10px; font-family: 'DejaVu Sans', sans-serif; text-anchor: middle" x="372.63" y="171.21">0.0050</text> </g> </g> <g> <g> <path d="M353.89 143.09L357.54 144.07 " style="fill: none; stroke: #000000; stroke-linecap: square"/> </g> <g> <text style="font-size: 10px; font-family: 'DejaVu Sans', sans-serif; text-anchor: middle" x="373.83" y="148.55">0.0055</text> </g> </g> <g> <g> <path d="M354.94 119.98L358.63 120.94 " style="fill: none; stroke: #000000; stroke-linecap: square"/> </g> <g> <text style="font-size: 10px; font-family: 'DejaVu Sans', sans-serif; text-anchor: middle" x="375.06" y="125.47">0.0060</text> </g> </g> <g> <text style="font-size: 10px; font-family: 'DejaVu Sans', sans-serif; text-anchor: middle" x="394.93" y="152.9">Z</text> </g> </g> <g/> <g> <path d="M307.34 137.32L305.24 137.42L303.18 137.52L301.16 137.6L299.14 137.68L297.1 137.77L295.03 137.86L292.91 137.97L290.71 138.1L288.41 138.26L285.99 138.44L283.43 138.65L280.76 138.87L277.99 139.11L275.14 139.37L272.23 139.65L269.29 139.94L266.34 140.26L263.39 140.6L260.46 140.97L257.59 141.36L254.63 141.8L251.5 142.31L248.27 142.86L245.02 143.45L241.81 144.04L238.72 144.63L235.84 145.19L233.22 145.7L230.94 146.15L229.08 146.52L227.72 146.79L226.84 146.97L226.33 147.09L226.1 147.17L226.05 147.22L226.08 147.26L226.09 147.31L225.99 147.4L225.68 147.54L225.05 147.75L224.17 148.03L223.14 148.34L222 148.69L220.77 149.07L219.47 149.47L218.13 149.88L216.78 150.31L215.44 150.73L214.12 151.15L212.87 151.56L211.65 151.97L210.43 152.37L209.21 152.77L207.99 153.18L206.77 153.59L205.56 154.01L204.34 154.44L203.12 154.89L201.9 155.35L200.68 155.83L199.46 156.32L198.24 156.81L197.03 157.32L195.81 157.84L194.59 158.38L193.37 158.93L192.15 159.49L190.93 160.08L189.71 160.69L188.49 161.32L187.26 161.99L186 162.69L184.73 163.42L183.45 164.18L182.18 164.94L180.93 165.72L179.7 166.49L178.52 167.25L177.38 168L176.31 168.72L175.28 169.43L174.28 170.15L173.3 170.87L172.37 171.58L171.47 172.28L170.61 172.97L169.8 173.64L169.04 174.27L168.34 174.88L167.7 175.45L167.12 175.99L166.6 176.49L166.14 176.97L165.73 177.42L165.37 177.85L165.05 178.26L164.77 178.64L164.53 179.01L164.31 179.37L164.12 179.71L163.97 180.04L163.86 180.33L163.79 180.61L163.75 180.86L163.75 181.1L163.78 181.33L163.84 181.55L163.91 181.76L164.01 181.97L164.12 182.18L164.26 182.39L164.44 182.58L164.65 182.77L164.89 182.95L165.15 183.12L165.42 183.29L165.69 183.46L165.96 183.63L166.22 183.8L166.47 183.97 " style="fill: none; stroke: #0000ff; stroke-width: 2.2; stroke-linecap: square"/> </g> <g> <path d="M167.7 184.2L168.54 184.31L169.36 184.44L170.17 184.57L170.97 184.71L171.78 184.84L172.61 184.97L173.46 185.07L174.36 185.15L175.3 185.2L176.31 185.21L177.38 185.19L178.52 185.14L179.7 185.08L180.93 184.99L182.18 184.89L183.45 184.75L184.73 184.6L186 184.42L187.26 184.21L188.49 183.97L189.71 183.71L190.92 183.42L192.13 183.1L193.34 182.76L194.55 182.39L195.77 182L196.98 181.59L198.21 181.17L199.44 180.73L200.68 180.27L201.93 179.8L203.19 179.29L204.46 178.76L205.74 178.2L207.02 177.64L208.3 177.06L209.59 176.48L210.87 175.91L212.15 175.34L213.43 174.78 " style="fill: none; stroke: #008000; stroke-width: 2.2; stroke-linecap: square"/> </g> <g> <path d="M167.14 183.97L168.04 183.73L168.93 183.5L169.8 183.27L170.66 183.04L171.54 182.81L172.42 182.57L173.34 182.33L174.28 182.07L175.27 181.8L176.31 181.51L177.4 181.2L178.55 180.87L179.74 180.54L180.97 180.19L182.21 179.83L183.48 179.46L184.74 179.09L186.01 178.7L187.26 178.31L188.49 177.92L189.71 177.51L190.93 177.1L192.15 176.68L193.37 176.25L194.59 175.81L195.81 175.36L197.03 174.91L198.24 174.46L199.46 174L200.68 173.54L201.94 173.07L203.25 172.56L204.59 172.04L205.94 171.51L207.27 170.98L208.56 170.46L209.79 169.97L210.94 169.51L211.97 169.09L212.87 168.72L213.61 168.41L214.23 168.15L214.73 167.94L215.14 167.75L215.49 167.59L215.8 167.44L216.09 167.3L216.39 167.15L216.73 166.99L217.12 166.82 " style="fill: none; stroke-dasharray: 7.4,3.2; stroke-dashoffset: 0; stroke: #ff0000; stroke-width: 2.2"/> </g> <g> <g> <path d="M221.91 95.25L363.71 95.25 Q 365.71 95.25 365.71 93.25L365.71 48.82 Q 365.71 46.82 363.71 46.82L221.91 46.82 Q 219.91 46.82 219.91 48.82L219.91 93.25 Q 219.91 95.25 221.91 95.25z " style="fill: #ffffff; opacity: 0.8; stroke: #cccccc; stroke-linejoin: miter"/> </g> <g> <path d="M224.41 55.41L234.41 55.41L244.41 55.41 " style="fill: none; stroke: #0000ff; stroke-width: 2; stroke-linecap: square"/> </g> <g> <text style="font-size: 10px; font-family: 'DejaVu Sans', sans-serif; text-anchor: start" x="252.41" y="58.91">Input Sequence</text> </g> <g> <path d="M224.41 70.29L234.41 70.29L244.41 70.29 " style="fill: none; stroke: #008000; stroke-width: 2; stroke-linecap: square"/> </g> <g> <text style="font-size: 10px; font-family: 'DejaVu Sans', sans-serif; text-anchor: start" x="252.41" y="73.79">True Future Trajectory</text> </g> <g> <path d="M224.41 85.17L234.41 85.17L244.41 85.17 " style="fill: none; stroke-dasharray: 7.4,3.2; stroke-dashoffset: 0; stroke: #ff0000; stroke-width: 2"/> </g> <g> <text style="font-size: 10px; font-family: 'DejaVu Sans', sans-serif; text-anchor: start" x="252.41" y="88.67">Predicted Trajectory</text> </g> </g> </g> </svg>
<svg class="caps" width="550" height="828" viewBox="0 0 550 828"><text x="60.8" y="264.6" font-size="11.6" textLength="145.8" lengthAdjust="spacingAndGlyphs">(a) Position (Max, GRU_3)</text><text x="312.2" y="264.6" font-size="11.6" textLength="183.0" lengthAdjust="spacingAndGlyphs">(b) Position (Whitening, GRU_5)</text><text x="60.7" y="537.3" font-size="11.1" textLength="144.8" lengthAdjust="spacingAndGlyphs">(c) Velocity (Max, GRU_10)</text><text x="308.4" y="537.0" font-size="12.0" textLength="195.9" lengthAdjust="spacingAndGlyphs">(d) Velocity (Whitening, GRU_12)</text><text x="64.6" y="818.4" font-size="10.4" textLength="134.3" lengthAdjust="spacingAndGlyphs">(e) Velocity (Max, GRU_22)</text><text x="352.0" y="818.4" font-size="10.1" textLength="125.1" lengthAdjust="spacingAndGlyphs">(f) Position (Max, GRU_1)</text></svg>
</div></body></html>
